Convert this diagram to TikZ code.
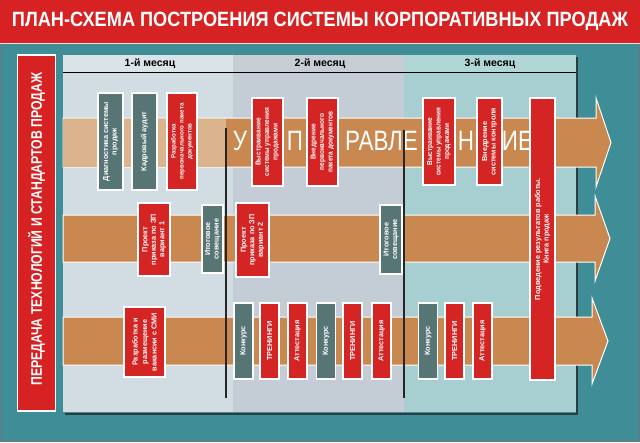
\documentclass[tikz,border=0pt]{standalone}
\usepackage{graphicx}
\usepackage{fontspec}
\setmainfont{Liberation Sans}
\newfontfamily\narrowfont[FakeStretch=0.8]{Liberation Sans}
\newfontfamily\titlefont[FakeStretch=0.88]{Liberation Sans}
\newfontfamily\boxnarrow[FakeStretch=0.9]{Liberation Sans}
\definecolor{bgteal}{HTML}{3F8E97}
\definecolor{titlered}{HTML}{D62222}
\definecolor{boxred}{HTML}{D52424}
\definecolor{boxgray}{HTML}{587576}
\definecolor{colAhead}{HTML}{DAE3E8}
\definecolor{colBhead}{HTML}{C6CED4}
\definecolor{colChead}{HTML}{B0D6D6}
\definecolor{colAbody}{HTML}{D1DCE3}
\definecolor{colBbody}{HTML}{C4CCD5}
\definecolor{colCbody}{HTML}{A7CFD1}
\definecolor{bandc}{HTML}{C9884F}
\definecolor{bandlight}{HTML}{DBB48D}
\definecolor{shadowc}{HTML}{2E3C40}
\begin{document}
\begin{tikzpicture}[x=1pt,y=-1pt,
  rb/.style={fill=boxred, draw=white, line width=1.3pt, rotate=90, text=white,
    font=\fontsize{7.3}{8.5}\selectfont\bfseries, align=center, inner sep=0pt},
  gb/.style={rb, fill=boxgray},
  sb/.style={minimum width=76pt, minimum height=19pt},
  nb/.style={font=\boxnarrow\fontsize{7.2}{8.5}\selectfont\bfseries},
  band/.style={fill=bandc, draw=white, line width=1pt},
  letter/.style={text=white, anchor=base, inner sep=0pt, font=\narrowfont\fontsize{28}{28}\selectfont},
  mline/.style={line width=1.2pt, black!85},
  head/.style={font=\fontsize{10.5}{12}\selectfont\bfseries, text=black}
]
\useasboundingbox (0,0) rectangle (640,442);
% background
\fill[bgteal] (0,0) rectangle (640,442);
\draw[shadowc!70, line width=1pt] (1,44) -- (1,441.5) -- (639.5,441.5) -- (639.5,44);
% title
\fill[titlered] (0,0) rectangle (640,43);
\draw[white!85!titlered, line width=1pt] (0,43.5) -- (640,43.5);
\node[text=white, inner sep=0pt] (title) at (320,21.5)
  {\resizebox{616pt}{!}{\titlefont\bfseries ПЛАН-СХЕМА ПОСТРОЕНИЯ СИСТЕМЫ КОРПОРАТИВНЫХ ПРОДАЖ}};
% left bar
\filldraw[fill=titlered, draw=white, line width=1.5pt] (17.5,55) rectangle (55.5,411);
\node[rotate=90, text=white, inner sep=0pt] (lefttext) at (36.5,229)
  {\resizebox{313pt}{!}{\narrowfont\bfseries ПЕРЕДАЧА ТЕХНОЛОГИЙ И СТАНДАРТОВ ПРОДАЖ}};
% panel
\draw[shadowc, line width=2pt] (577,57) -- (577,414) -- (65,414);
\fill[colAbody] (63,55) rectangle (233,412);
\fill[colBbody] (233,55) rectangle (404,412);
\fill[colCbody] (404,55) rectangle (576,412);
\fill[colAhead] (63,55) rectangle (233,72);
\fill[colBhead] (233,55) rectangle (404,72);
\fill[colChead] (404,55) rectangle (576,72);
\draw[black, line width=1.2pt] (63,72.5) -- (576,72.5);
\node[head] (m1) at (150,64) {1-й месяц};
\node[head] (m2) at (320,64) {2-й месяц};
\node[head] (m3) at (490,64) {3-й месяц};
% bands
\path[band] (63,118) -- (596,118) -- (596,98) -- (611,142.5) -- (596,187) -- (596,167) -- (63,167) -- cycle;
\fill[bandlight] (63,118.5) rectangle (226,166.5);
\path[band] (63,215) -- (595,215) -- (595,196) -- (610,238.5) -- (595,281) -- (595,262) -- (63,262) -- cycle;
\path[band] (63,317) -- (592,317) -- (592,298) -- (608,341) -- (592,384) -- (592,365) -- (63,365) -- cycle;
% letters
\node[letter] (l1) at (240,150) {У};
\node[letter] (l2) at (295,150) {П};
\node[letter] (l3) at (381.5,150) {РАВЛЕ};
\node[letter] (l4) at (466,150) {Н};
\node[letter] (l5) at (517.5,150) {ИЕ};
% month divider lines
\coordinate (d1a) at (226,128); \coordinate (d1b) at (226,398);
\coordinate (d2a) at (404,130); \coordinate (d2b) at (404,398);
\draw[mline] (d1a) -- (d1b);
\draw[mline] (d2a) -- (d2b);
% top band boxes
\node[gb, minimum width=97pt, minimum height=25pt] (A) at (110.5,141.5) {Диагностика системы\\продаж};
\node[gb, minimum width=97pt, minimum height=25pt] (B) at (144.5,141.5) {Кадровый аудит};
\node[rb, minimum width=97pt, minimum height=30pt, font=\fontsize{6.2}{8}\selectfont\bfseries] (C) at (182,141.5) {Разработка\\первоначального пакета\\документов};
\node[rb, nb, minimum width=88pt, minimum height=31pt] (D) at (267.5,142) {Выстраивание\\системы управления\\продажами};
\node[rb, nb, minimum width=88pt, minimum height=31pt] (E) at (322.5,142) {Внедрение\\первоначального\\пакета документов};
\node[rb, nb, minimum width=87pt, minimum height=32pt] (F) at (439,141.5) {Выстраивание\\системы управления\\продажами};
\node[rb, minimum width=87pt, minimum height=25pt] (G) at (489.5,141.5) {Внедрение\\системы контроля};
\node[rb, minimum width=282pt, minimum height=25pt] (H) at (542.5,239) {Подведение результатов работы.\\Книга продаж};
% middle band boxes
\node[rb, minimum width=73pt, minimum height=32pt] (I) at (154,239.5) {Проект\\приказа по ЗП\\вариант 1};
\node[gb, minimum width=68pt, minimum height=21pt] (J) at (212.5,239) {Итоговое\\совещание};
\node[rb, minimum width=74pt, minimum height=33pt] (K) at (252.5,240) {Проект\\приказа по ЗП\\вариант 2};
\node[gb, minimum width=69pt, minimum height=22pt] (L) at (391,239.5) {Итоговое\\совещание};
% bottom band boxes
\node[rb, minimum width=70pt, minimum height=41pt, font=\fontsize{7.3}{9.5}\selectfont\bfseries] (M) at (144.5,342) {Разработка и\\размещение\\вакансии с СМИ};
\node[gb, sb] (N) at (243.5,341) {Конкурс};
\node[rb, sb] (O) at (269.5,341) {ТРЕНИНГИ};
\node[rb, sb] (P) at (297.5,341) {Аттестация};
\node[gb, sb] (R) at (326,341) {Конкурс};
\node[rb, sb] (S) at (352.5,341) {ТРЕНИНГИ};
\node[rb, sb] (T) at (381.5,341) {Аттестация};
\node[gb, sb] (U) at (428,341) {Конкурс};
\node[rb, sb] (V) at (454.5,341) {ТРЕНИНГИ};
\node[rb, sb] (W) at (482.5,341) {Аттестация};
\end{tikzpicture}
\end{document}
